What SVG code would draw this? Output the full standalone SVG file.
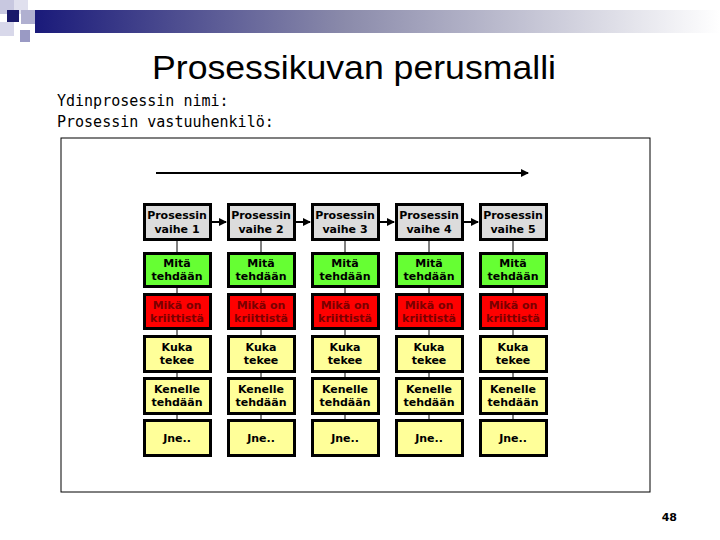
<svg xmlns="http://www.w3.org/2000/svg" width="720" height="540" viewBox="0 0 720 540">
<defs>
<linearGradient id="g" x1="0" x2="1"><stop offset="0" stop-color="#1a1a7a"/><stop offset="0.45" stop-color="#8a8aaa"/><stop offset="1" stop-color="#ffffff"/></linearGradient>
<marker id="a" markerWidth="8" markerHeight="8" refX="7" refY="4" orient="auto" markerUnits="userSpaceOnUse"><path d="M0,0 L8,4 L0,8 z" fill="#000"/></marker>
<style>
.b{stroke:#000;stroke-width:3}
.t{font-family:"DejaVu Sans",sans-serif;font-weight:bold;font-size:11px;text-anchor:middle}
.g{fill:#dcdcdc}.gr{fill:#66ff33}.r{fill:#ff0000}.y{fill:#ffff99}
.rt{fill:#7a0000}
</style>
</defs>
<rect width="720" height="540" fill="#fff"/>
<g id="banner">
<rect x="35" y="10" width="685" height="23" fill="url(#g)"/>
<rect x="0" y="0" width="14" height="14" fill="#c8c8e0"/>
<rect x="14" y="0" width="14" height="14" fill="#e0e0ee"/>
<rect x="7" y="10" width="12" height="12" fill="#1a1a6a"/>
<rect x="21" y="10" width="14" height="14" fill="#b0b0d0"/>
<rect x="0" y="22" width="14" height="14" fill="#d8d8ea"/>
<rect x="20" y="30" width="10" height="12" fill="#9a9ac4"/>
</g>
<text x="354" y="79" font-family="'Liberation Sans',sans-serif" font-size="33" text-anchor="middle" textLength="404" lengthAdjust="spacingAndGlyphs">Prosessikuvan perusmalli</text>
<text x="57" y="106" font-family="'DejaVu Sans Mono',monospace" font-size="15">Ydinprosessin nimi:</text>
<text x="57" y="127" font-family="'DejaVu Sans Mono',monospace" font-size="15">Prosessin vastuuhenkilö:</text>
<rect x="61" y="138" width="589" height="354" fill="none" stroke="#000" stroke-width="1"/>
<g id="connectors" stroke="#000" fill="none">
<line x1="156" y1="173" x2="528" y2="173" stroke-width="2" marker-end="url(#a)"/>
<line x1="212" y1="222" x2="226" y2="222" stroke-width="2" marker-end="url(#a)"/>
<line x1="296" y1="222" x2="310" y2="222" stroke-width="2" marker-end="url(#a)"/>
<line x1="380" y1="222" x2="394" y2="222" stroke-width="2" marker-end="url(#a)"/>
<line x1="464" y1="222" x2="478" y2="222" stroke-width="2" marker-end="url(#a)"/>
<path d="M177,241V419M261,241V419M345,241V419M429,241V419M513,241V419" stroke-width="1"/>
</g>
<g id="col1" transform="translate(143,0)">
<rect class="b g" x="1.5" y="204.5" width="66" height="35"/><text class="t" x="34" y="219">Prosessin</text><text class="t" x="34" y="233">vaihe 1</text>
<rect class="b gr" x="1.5" y="253.5" width="66" height="33"/><text class="t" x="34" y="267">Mitä</text><text class="t" x="34" y="280">tehdään</text>
<rect class="b r" x="1.5" y="294.5" width="66" height="34"/><text class="t rt" x="34" y="309">Mikä on</text><text class="t rt" x="34" y="322">kriittistä</text>
<rect class="b y" x="1.5" y="336.5" width="66" height="35"/><text class="t" x="34" y="351">Kuka</text><text class="t" x="34" y="364">tekee</text>
<rect class="b y" x="1.5" y="378.5" width="66" height="35"/><text class="t" x="34" y="393">Kenelle</text><text class="t" x="34" y="406">tehdään</text>
<rect class="b y" x="1.5" y="420.5" width="66" height="35"/><text class="t" x="34" y="442">Jne..</text>
</g>
<g id="col2" transform="translate(227,0)">
<rect class="b g" x="1.5" y="204.5" width="66" height="35"/><text class="t" x="34" y="219">Prosessin</text><text class="t" x="34" y="233">vaihe 2</text>
<rect class="b gr" x="1.5" y="253.5" width="66" height="33"/><text class="t" x="34" y="267">Mitä</text><text class="t" x="34" y="280">tehdään</text>
<rect class="b r" x="1.5" y="294.5" width="66" height="34"/><text class="t rt" x="34" y="309">Mikä on</text><text class="t rt" x="34" y="322">kriittistä</text>
<rect class="b y" x="1.5" y="336.5" width="66" height="35"/><text class="t" x="34" y="351">Kuka</text><text class="t" x="34" y="364">tekee</text>
<rect class="b y" x="1.5" y="378.5" width="66" height="35"/><text class="t" x="34" y="393">Kenelle</text><text class="t" x="34" y="406">tehdään</text>
<rect class="b y" x="1.5" y="420.5" width="66" height="35"/><text class="t" x="34" y="442">Jne..</text>
</g>
<g id="col3" transform="translate(311,0)">
<rect class="b g" x="1.5" y="204.5" width="66" height="35"/><text class="t" x="34" y="219">Prosessin</text><text class="t" x="34" y="233">vaihe 3</text>
<rect class="b gr" x="1.5" y="253.5" width="66" height="33"/><text class="t" x="34" y="267">Mitä</text><text class="t" x="34" y="280">tehdään</text>
<rect class="b r" x="1.5" y="294.5" width="66" height="34"/><text class="t rt" x="34" y="309">Mikä on</text><text class="t rt" x="34" y="322">kriittistä</text>
<rect class="b y" x="1.5" y="336.5" width="66" height="35"/><text class="t" x="34" y="351">Kuka</text><text class="t" x="34" y="364">tekee</text>
<rect class="b y" x="1.5" y="378.5" width="66" height="35"/><text class="t" x="34" y="393">Kenelle</text><text class="t" x="34" y="406">tehdään</text>
<rect class="b y" x="1.5" y="420.5" width="66" height="35"/><text class="t" x="34" y="442">Jne..</text>
</g>
<g id="col4" transform="translate(395,0)">
<rect class="b g" x="1.5" y="204.5" width="66" height="35"/><text class="t" x="34" y="219">Prosessin</text><text class="t" x="34" y="233">vaihe 4</text>
<rect class="b gr" x="1.5" y="253.5" width="66" height="33"/><text class="t" x="34" y="267">Mitä</text><text class="t" x="34" y="280">tehdään</text>
<rect class="b r" x="1.5" y="294.5" width="66" height="34"/><text class="t rt" x="34" y="309">Mikä on</text><text class="t rt" x="34" y="322">kriittistä</text>
<rect class="b y" x="1.5" y="336.5" width="66" height="35"/><text class="t" x="34" y="351">Kuka</text><text class="t" x="34" y="364">tekee</text>
<rect class="b y" x="1.5" y="378.5" width="66" height="35"/><text class="t" x="34" y="393">Kenelle</text><text class="t" x="34" y="406">tehdään</text>
<rect class="b y" x="1.5" y="420.5" width="66" height="35"/><text class="t" x="34" y="442">Jne..</text>
</g>
<g id="col5" transform="translate(479,0)">
<rect class="b g" x="1.5" y="204.5" width="66" height="35"/><text class="t" x="34" y="219">Prosessin</text><text class="t" x="34" y="233">vaihe 5</text>
<rect class="b gr" x="1.5" y="253.5" width="66" height="33"/><text class="t" x="34" y="267">Mitä</text><text class="t" x="34" y="280">tehdään</text>
<rect class="b r" x="1.5" y="294.5" width="66" height="34"/><text class="t rt" x="34" y="309">Mikä on</text><text class="t rt" x="34" y="322">kriittistä</text>
<rect class="b y" x="1.5" y="336.5" width="66" height="35"/><text class="t" x="34" y="351">Kuka</text><text class="t" x="34" y="364">tekee</text>
<rect class="b y" x="1.5" y="378.5" width="66" height="35"/><text class="t" x="34" y="393">Kenelle</text><text class="t" x="34" y="406">tehdään</text>
<rect class="b y" x="1.5" y="420.5" width="66" height="35"/><text class="t" x="34" y="442">Jne..</text>
</g>
<text x="677" y="521" font-family="'DejaVu Sans',sans-serif" font-weight="bold" font-size="11" text-anchor="end">48</text>
</svg>
